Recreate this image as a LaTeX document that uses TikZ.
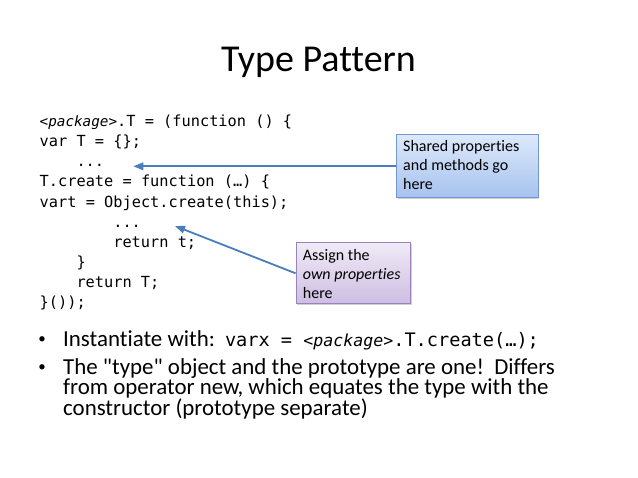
\documentclass[tikz,border=0pt]{standalone}
\usepackage{fontspec}
\setmainfont{Carlito}[Ligatures={NoCommon}]
\newfontfamily\codefont{DejaVu Sans Mono}[ItalicFont={DejaVu Sans Mono Oblique}]
\usetikzlibrary{arrows.meta,shadows}
\definecolor{arrowblue}{HTML}{4A7EBB}
\definecolor{sharedborder}{HTML}{6F97D1}
\definecolor{sharedtop}{HTML}{DDE9FA}
\definecolor{sharedbot}{HTML}{A6C2EE}
\definecolor{assignborder}{HTML}{9A82BD}
\definecolor{assigntop}{HTML}{F0EAF6}
\definecolor{assignbot}{HTML}{CDBEE2}
\newcommand\cf{\codefont\fontsize{15.3}{18}\selectfont}
\newcommand\pkgc{{\itshape\fontsize{14.3}{18}\selectfont <package>}}
\newcommand\bmono{\codefont\fontsize{18.6}{20}\selectfont}
\newcommand\pkgb{{\itshape\fontsize{16.6}{20}\selectfont <package>}}
\tikzset{
  codeline/.style={anchor=base west,inner sep=0pt,font=\cf},
  titletext/.style={anchor=base,inner sep=0pt,font=\fontsize{38}{44}\selectfont},
  bullettext/.style={anchor=base west,inner sep=0pt,text height=14.5pt,text depth=4pt,font=\fontsize{22.9}{26}\selectfont},
  bulletdot/.style={anchor=center,inner sep=0pt,font=\fontsize{15}{16}\selectfont},
  boxtext/.style={anchor=base west,inner sep=0pt,font=\fontsize{16}{19}\selectfont},
  sharedbox/.style={draw=sharedborder,line width=0.9pt,top color=sharedtop,bottom color=sharedbot,
    minimum width=141.3pt,minimum height=62.7pt,inner sep=0pt,
    drop shadow={shadow xshift=1.2pt,shadow yshift=-1.5pt,opacity=0.18,fill=black}},
  assignbox/.style={draw=assignborder,line width=0.9pt,top color=assigntop,bottom color=assignbot,
    minimum width=114.7pt,minimum height=61.3pt,inner sep=0pt,
    drop shadow={shadow xshift=1.2pt,shadow yshift=-1.5pt,opacity=0.18,fill=black}},
  callout/.style={draw=arrowblue,line width=1.8pt,-{Triangle[length=10pt,width=7.5pt]}}
}
\begin{document}
\begin{tikzpicture}[x=1pt,y=-1pt]
\fill[white] (0,0) rectangle (638,478);
\useasboundingbox (0,0) rectangle (638,478);
% title
\node[titletext] (title) at (318.5,72) {Type Pattern};
% code
\node[codeline] (c1) at (39.5,126.7) {\pkgc.T = (function () \{};
\node[codeline] (c2) at (39.5,146.8) {var T = \{\};};
\node[codeline] (c3) at (76.3,166.9) {...};
\node[codeline] (c4) at (39.5,187.0) {T.create = function (…) \{};
\node[codeline] (c5) at (39.5,207.1) {vart = Object.create(this);};
\node[codeline] (c6) at (113.1,227.2) {...};
\node[codeline] (c7) at (113.1,247.3) {return t;};
\node[codeline] (c8) at (76.3,267.4) {\}};
\node[codeline] (c9) at (76.3,287.5) {return T;};
\node[codeline] (c10) at (39.5,307.6) {\}());};
% boxes
\node[sharedbox] (shared) at (467.3,166.3) {};
\node[boxtext] (s1) at (403,152) {Shared properties};
\node[boxtext] (s2) at (403,170.8) {and methods go};
\node[boxtext] (s3) at (403,189.6) {here};
\node[assignbox] (assign) at (353.4,273.3) {};
\node[boxtext] (a1) at (302.7,261) {Assign the};
\node[boxtext] (a2) at (302.7,280) {\itshape own properties};
\node[boxtext] (a3) at (302.7,299) {here};
% arrows
\coordinate (tip1) at (133.3,166.3);
\coordinate (tip2) at (175,226);
\draw[callout] (shared.west) -- (tip1);
\draw[callout] (assign.west) -- (tip2);
% bullets
\node[bulletdot] (b1dot) at (42,340) {•};
\node[bullettext] (b1) at (63,346.7) {Instantiate with:\hspace{10pt}{\bmono varx = \pkgb.T.create(…);}};
\node[bulletdot] (b2dot) at (42,367.6) {•};
\node[bullettext] (b2a) at (63,374.3) {The \textquotedbl type\textquotedbl{} object and the prototype are one!\ \ Differs};
\node[bullettext] (b2b) at (63,394.8) {from operator new, which equates the type with the};
\node[bullettext] (b2c) at (63,415.3) {constructor (prototype separate)};
\end{tikzpicture}
\end{document}
